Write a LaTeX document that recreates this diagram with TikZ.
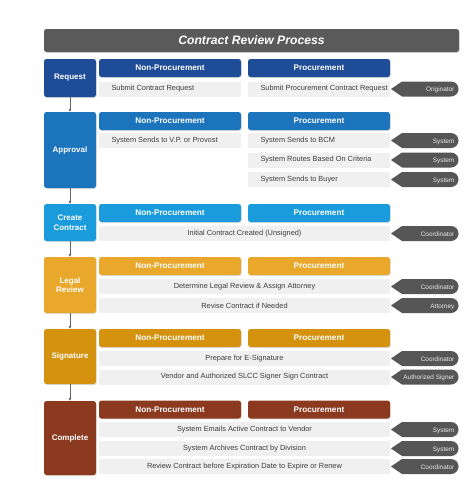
\documentclass[tikz,border=0pt]{standalone}
\usepackage{fontspec}
\setmainfont{Liberation Sans}
\usetikzlibrary{shadows,arrows.meta}
\definecolor{cReq}{HTML}{1E4C97}
\definecolor{cApp}{HTML}{1C74BC}
\definecolor{cCre}{HTML}{1A9BDB}
\definecolor{cLeg}{HTML}{E9A72B}
\definecolor{cSig}{HTML}{D4920F}
\definecolor{cCom}{HTML}{8C3A1F}
\definecolor{cTitle}{HTML}{5A5A5A}
\definecolor{cTag}{HTML}{565656}
\definecolor{rowgray}{HTML}{F0F0F0}
\definecolor{txtgray}{HTML}{3C3C3C}
\tikzset{
  shd/.style={drop shadow={opacity=0.28, shadow xshift=0.7pt, shadow yshift=-0.9pt}},
  blk/.style={shd, rounded corners=2.5pt, text=white, font=\bfseries\fontsize{8}{9.5}\selectfont, align=center, inner sep=0, minimum width=52},
  hdr/.style={shd, rounded corners=2.5pt, text=white, font=\bfseries\fontsize{8.2}{9}\selectfont, minimum width=142, minimum height=18, inner sep=0},
  rowl/.style={fill=rowgray, text=txtgray, font=\fontsize{7.4}{8}\selectfont, minimum height=15, minimum width=142, inner xsep=12.5pt, inner ysep=0},
  rowf/.style={fill=rowgray, text=txtgray, font=\fontsize{7.4}{8}\selectfont, minimum height=15, minimum width=291, inner sep=0},
  tagtxt/.style={text=white!92!black, font=\fontsize{6.4}{7}\selectfont, inner sep=0, anchor=mid east},
  conn/.style={draw=gray!80!black, line width=0.5pt, -{Triangle[length=3pt,width=2.6pt]}},
}
\newcommand\rl[1]{\makebox[117pt][l]{#1}}
\newcommand\mytag[3]{%
  \fill[cTag] (391,#2) -- (402,#2-7.5) -- (451,#2-7.5) arc[start angle=90,end angle=-90,radius=7.5pt] -- (402,#2+7.5) -- cycle;
  \node[tagtxt] (#1) at (454.5,#2) {#3};}
\begin{document}
\begin{tikzpicture}[x=1pt,y=-1pt]
\useasboundingbox[fill=white] (0,0) rectangle (474,490);
% title
\node[shd, fill=cTitle, rounded corners=2.5pt, minimum width=415, minimum height=23, inner sep=0, text=white, font=\bfseries\itshape\fontsize{12.2}{14}\selectfont] (title) at (251.5,40.5) {Contract Review Process};
% Request
\node[blk, fill=cReq, minimum height=38] (req) at (70,78) {Request};
\node[hdr, fill=cReq] (reqnp) at (170,68) {Non-Procurement};
\node[hdr, fill=cReq] (reqp) at (319,68) {Procurement};
\node[rowl] (r1) at (170,89) {\rl{Submit Contract Request}};
\node[rowl] (r2) at (319,89) {\rl{Submit Procurement Contract Request}};
\mytag{t1}{89}{Originator}
% Approval
\node[blk, fill=cApp, minimum height=76] (app) at (70,150) {Approval};
\node[hdr, fill=cApp] (appnp) at (170,121) {Non-Procurement};
\node[hdr, fill=cApp] (appp) at (319,121) {Procurement};
\node[rowl] (a1) at (170,140.5) {\rl{System Sends to V.P. or Provost}};
\node[rowl] (a2) at (319,140.5) {\rl{System Sends to BCM}};
\node[rowl] (a3) at (319,160) {\rl{System Routes Based On Criteria}};
\node[rowl] (a4) at (319,179.5) {\rl{System Sends to Buyer}};
\mytag{t2}{140.5}{System}
\mytag{t3}{160}{System}
\mytag{t4}{179.5}{System}
% Create
\node[blk, fill=cCre, minimum height=37] (cre) at (70,222.5) {Create\\Contract};
\node[hdr, fill=cCre] (crenp) at (170,213) {Non-Procurement};
\node[hdr, fill=cCre] (crep) at (319,213) {Procurement};
\node[rowf] (c1) at (244.5,233.5) {Initial Contract Created (Unsigned)};
\mytag{t5}{233.5}{Coordinator}
% Legal
\node[blk, fill=cLeg, minimum height=56] (leg) at (70,285) {Legal\\Review};
\node[hdr, fill=cLeg] (legnp) at (170,266) {Non-Procurement};
\node[hdr, fill=cLeg] (legp) at (319,266) {Procurement};
\node[rowf] (l1) at (244.5,286.5) {Determine Legal Review \& Assign Attorney};
\node[rowf] (l2) at (244.5,305.5) {Revise Contract if Needed};
\mytag{t6}{286.5}{Coordinator}
\mytag{t7}{305.5}{Attorney}
% Signature
\node[blk, fill=cSig, minimum height=55] (sig) at (70,356.5) {Signature};
\node[hdr, fill=cSig] (signp) at (170,338) {Non-Procurement};
\node[hdr, fill=cSig] (sigp) at (319,338) {Procurement};
\node[rowf] (s1) at (244.5,358.5) {Prepare for E-Signature};
\node[rowf] (s2) at (244.5,377) {Vendor and Authorized SLCC Signer Sign Contract};
\mytag{t8}{358.5}{Coordinator}
\mytag{t9}{377}{Authorized Signer}
% Complete
\node[blk, fill=cCom, minimum height=74] (com) at (70,438) {Complete};
\node[hdr, fill=cCom] (comnp) at (170,409.5) {Non-Procurement};
\node[hdr, fill=cCom] (comp) at (319,409.5) {Procurement};
\node[rowf] (m1) at (244.5,429.5) {System Emails Active Contract to Vendor};
\node[rowf] (m2) at (244.5,448.5) {System Archives Contract by Division};
\node[rowf] (m3) at (244.5,466.5) {Review Contract before Expiration Date to Expire or Renew};
\mytag{t10}{429.5}{System}
\mytag{t11}{448.5}{System}
\mytag{t12}{466.5}{Coordinator}
% connectors
\draw[conn] (req.south) -- (app.north);
\draw[conn] (app.south) -- (cre.north);
\draw[conn] (cre.south) -- (leg.north);
\draw[conn] (leg.south) -- (sig.north);
\draw[conn] (sig.south) -- (com.north);
\end{tikzpicture}
\end{document}
